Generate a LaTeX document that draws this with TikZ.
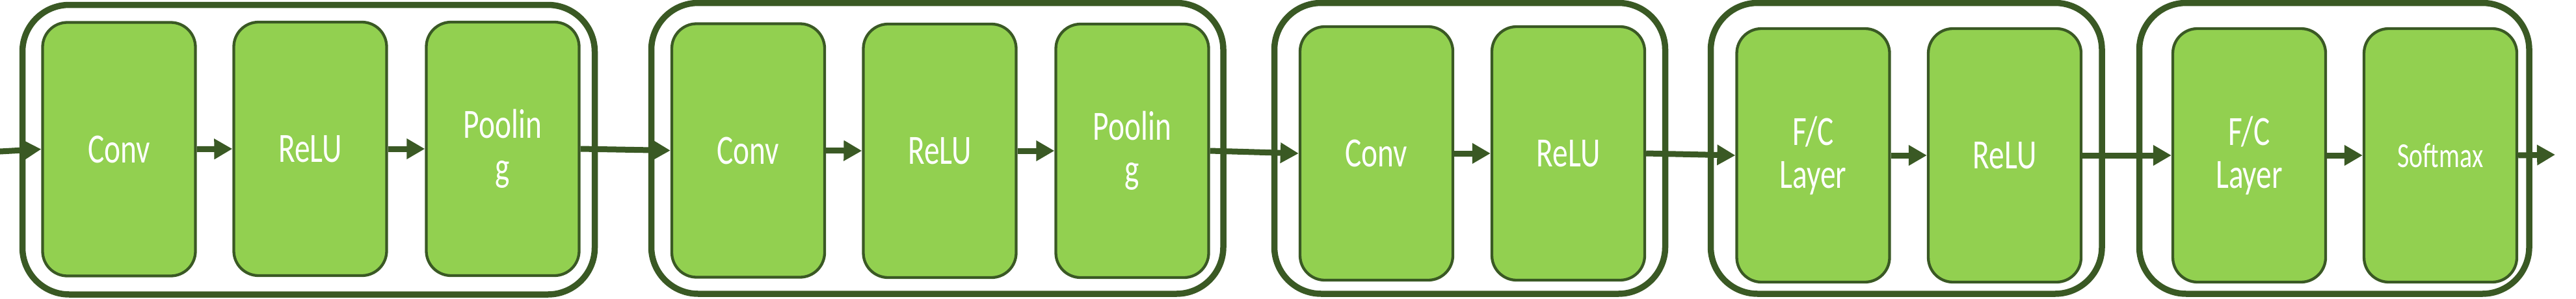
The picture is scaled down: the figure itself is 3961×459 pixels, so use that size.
\documentclass[tikz,border=0pt]{standalone}
\usepackage{fontspec}
\newfontfamily\lab{Carlito}[FakeStretch=0.74]
\usetikzlibrary{arrows.meta}
\definecolor{dkgreen}{HTML}{3A5924}
\definecolor{ltgreen}{HTML}{92D050}
\tikzset{
  layerbox/.style={draw=dkgreen, fill=ltgreen, line width=4.3pt, rounded corners=38pt,
    minimum width=235pt, minimum height=390pt, inner sep=0pt, align=center,
    text=white, font=\lab\fontsize{64}{66}\selectfont},
  groupbox/.style={draw=dkgreen, line width=9.5pt, rounded corners=72pt},
  flow/.style={draw=dkgreen, line width=9pt, -{Triangle[length=28pt,width=30pt]}}
}
\begin{document}
\begin{tikzpicture}[x=1pt,y=-1pt]
\useasboundingbox (0,0) rectangle (3961,459);
% groups
\draw[groupbox] (34.5,7.5) rectangle (914.5,453);
\draw[groupbox] (1001.5,4.5) rectangle (1881,452);
\draw[groupbox] (1959.5,4.5) rectangle (2560.5,452);
\draw[groupbox] (2630.5,4.5) rectangle (3232,452);
\draw[groupbox] (3289.5,4.5) rectangle (3889,452);
% layers
\node[layerbox] (conv1) at (183,229.5) {Conv};
\node[layerbox] (relu1) at (477,229) {ReLU};
\node[layerbox] (pool1) at (773,229) {Poolin\\g};
\node[layerbox] (conv2) at (1150.5,231.5) {Conv};
\node[layerbox] (relu2) at (1445,232) {ReLU};
\node[layerbox] (pool2) at (1741,232) {Poolin\\g};
\node[layerbox] (conv3) at (2116.5,236) {Conv};
\node[layerbox] (relu3) at (2411.5,236) {ReLU};
\node[layerbox] (fc1) at (2788,239) {F/C\\Layer};
\node[layerbox] (relu4) at (3082.5,239) {ReLU};
\node[layerbox] (fc2) at (3458.5,239) {F/C\\Layer};
\node[layerbox, font=\lab\fontsize{54}{56}\selectfont] (soft) at (3752.5,239) {Softmax};
% connectors
\coordinate (in) at (0,233);
\coordinate (out) at (3929,238);
\draw[flow] (in) -- (conv1.west);
\draw[flow] (conv1.east) -- (relu1.west);
\draw[flow] (relu1.east) -- (pool1.west);
\draw[flow] (pool1.east) -- (conv2.west);
\draw[flow] (conv2.east) -- (relu2.west);
\draw[flow] (relu2.east) -- (pool2.west);
\draw[flow] (pool2.east) -- (conv3.west);
\draw[flow] (conv3.east) -- (relu3.west);
\draw[flow] (relu3.east) -- (fc1.west);
\draw[flow] (fc1.east) -- (relu4.west);
\draw[flow] (relu4.east) -- (fc2.west);
\draw[flow] (fc2.east) -- (soft.west);
\draw[flow] (soft.east) -- (out);
\end{tikzpicture}
\end{document}
